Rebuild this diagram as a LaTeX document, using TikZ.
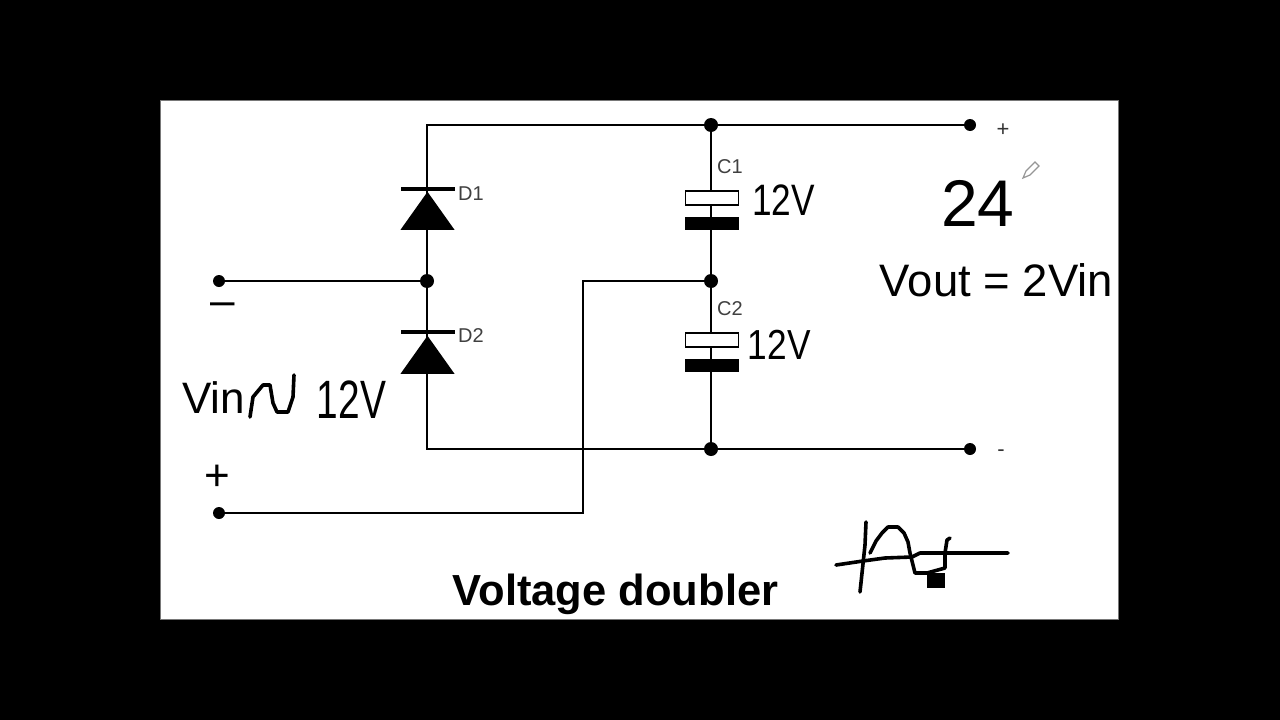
\documentclass[tikz,border=0pt]{standalone}
\usepackage{fontspec}
\setmainfont{Liberation Sans}
\usetikzlibrary{shapes.geometric}
\definecolor{framegray}{RGB}{120,120,120}
\definecolor{pencilgray}{RGB}{150,150,150}

\begin{document}
\begin{tikzpicture}[
    x=1pt, y=-1pt,
    wire/.style={line width=2pt},
    pen/.style={line width=3.6pt, line join=round, line cap=round},
    term/.style={circle, fill=black, inner sep=0pt, minimum size=12pt},
    jdot/.style={circle, fill=black, inner sep=0pt, minimum size=14pt},
    bar/.style={rectangle, fill=black, inner sep=0pt, minimum width=54pt, minimum height=4pt},
    tri/.style={isosceles triangle, isosceles triangle stretches, shape border rotate=90, anchor=south, fill=black, inner sep=0pt, minimum width=54pt, minimum height=38pt},
    plateA/.style={rectangle, draw, fill=white, line width=1.6pt, inner sep=0pt, minimum width=53pt, minimum height=14pt},
    plateB/.style={rectangle, fill=black, inner sep=0pt, minimum width=54pt, minimum height=13pt},
    small/.style={font=\fontsize{20}{20}\selectfont, text=black!75},
    hand/.style={inner sep=0pt, transform shape}
]

% Screen and panel
\fill[black] (0,0) rectangle (1280,720);
\node[rectangle, draw=framegray, fill=white, line width=1pt, inner sep=0pt, minimum width=958pt, minimum height=519pt] (panel) at (639.5,359.5) {};

% Junctions and terminals
\node[term] (inminus) at (219,281) {};
\node[term] (inplus) at (219,513) {};
\node[term] (outplus) at (970,125) {};
\node[term] (outminus) at (970,449) {};
\node[jdot] (jmiddle) at (427,281) {};
\node[jdot] (jtop) at (711,125) {};
\node[jdot] (jcap) at (711,281) {};
\node[jdot] (jbottom) at (711,449) {};
\coordinate (bendtop) at (583,281);
\coordinate (bendlow) at (583,513);

% Wires
\draw[wire] (inminus) -- (jmiddle);
\draw[wire] (jtop) -| (jmiddle);
\draw[wire] (jmiddle) |- (jbottom);
\draw[wire] (jtop) -- (outplus);
\draw[wire] (jbottom) -- (outminus);
\draw[wire] (jtop) -- (jcap);
\draw[wire] (jcap) -- (jbottom);
\draw[wire] (jcap) -- (bendtop) -- (bendlow) -- (inplus);

% Diodes
\node[bar] (d1bar) at (427.5,189) {};
\node[tri] (d1tri) at (427.5,230) {};
\node[bar] (d2bar) at (427.5,332) {};
\node[tri] (d2tri) at (427.5,374) {};
\node[small, anchor=west, inner sep=0pt] (d1label) at (458,194) {D1};
\node[small, anchor=west, inner sep=0pt] (d2label) at (458,336) {D2};

% Capacitors
\node[plateA] (c1top) at (712,198) {};
\node[plateB] (c1low) at (712,223) {};
\node[plateA] (c2top) at (712,340) {};
\node[plateB] (c2low) at (712,365) {};
\node[small, anchor=west, inner sep=0pt] (c1label) at (717,167) {C1};
\node[small, anchor=west, inner sep=0pt] (c2label) at (717,309) {C2};

% Printed labels
\node[font=\fontsize{22}{22}\selectfont, text=black!80] (plus) at (1003,130) {+};
\node[font=\fontsize{22}{22}\selectfont, text=black!80] (minus) at (1001,453) {-};
\node[font=\fontsize{45.5}{45.5}\selectfont, inner sep=0pt] (vout) at (996.5,280) {Vout = 2Vin};
\node[font=\bfseries\fontsize{43.5}{43.5}\selectfont, inner sep=0pt] (title) at (615.5,594) {Voltage doubler};

% Handwritten labels
\node[hand, anchor=west, font=\fontsize{44}{44}\selectfont] (vin) at (182,398) {Vin};
\draw[pen] (250,417) -- (253,397) -- (263,385) -- (270,385) -- (273,403) -- (277,412) -- (288,412) -- (293,397) -- (294,375);
\begin{scope}[xscale=0.72]
\node[hand, anchor=west, font=\fontsize{54}{54}\selectfont] (vinvalue) at (440,400) {12V};
\end{scope}
\begin{scope}[xscale=0.8]
\node[hand, anchor=west, font=\fontsize{44}{44}\selectfont] (c1value) at (940,200) {12V};
\end{scope}
\begin{scope}[xscale=0.84]
\node[hand, anchor=west, font=\fontsize{42}{42}\selectfont] (c2value) at (890,345) {12V};
\end{scope}
\node[hand, anchor=west, font=\fontsize{66}{66}\selectfont] (outvalue) at (941,203) {24};
\node[hand, font=\fontsize{44}{44}\selectfont] (handminus) at (223,309) {–};
\node[hand, font=\fontsize{44}{44}\selectfont] (handplus) at (217,478) {+};

% Pencil cursor
\draw[pencilgray, line width=1.2pt, fill=white] (1023,178) -- (1026,171) -- (1035,162) -- (1039,166) -- (1030,175) -- cycle;

% Sketched waveform
\draw[pen] (866,522) -- (865,545) -- (860,592);
\draw[pen] (836,565) -- (863,561) -- (885,558) -- (912,557) -- (920,553) -- (1008,553);
\draw[pen] (870,553) -- (876,541) -- (882,533) -- (888,527) -- (898,527) -- (904,533) -- (908,542) -- (910,553) -- (915,573) -- (927,573) -- (945,568) -- (945,553) -- (947,540) -- (950,538);
\fill[black] (927,573) rectangle (945,588);

\end{tikzpicture}
\end{document}
